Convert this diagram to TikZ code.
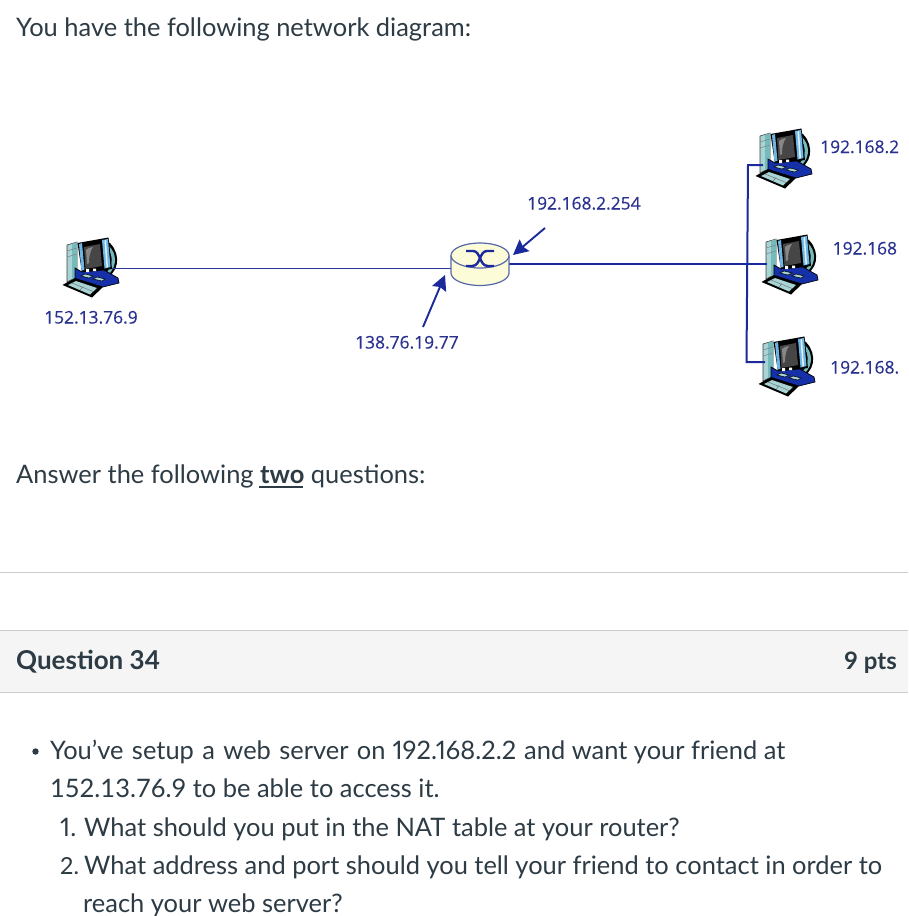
\documentclass[tikz,border=0pt]{standalone}
\usepackage{fontspec}
\setmainfont{Lato}
\newfontfamily\propnum[Numbers=Proportional]{Lato}
\newfontfamily\labelfont[FakeBold=0.4]{Open Sans}
\usetikzlibrary{arrows.meta}
\definecolor{ink}{HTML}{2D3B45}
\definecolor{netblue}{HTML}{1A2A9A}
\definecolor{labelblue}{HTML}{2A3290}
\definecolor{towerc}{HTML}{A9D4D6}
\definecolor{bezel}{HTML}{6DB6E4}
\definecolor{screenc}{HTML}{464646}
\definecolor{basec}{HTML}{1530A8}
\definecolor{routerfill}{HTML}{FDFCD8}
\definecolor{routerline}{HTML}{5566AA}
\definecolor{rulec}{HTML}{C7CDD1}
\definecolor{band}{HTML}{F5F5F5}
\tikzset{
  x=1pt,y=-1pt,
  body/.style={anchor=base west,inner sep=0pt,text=ink,font=\fontsize{25.45}{30}\selectfont},
  head/.style={anchor=base west,inner sep=0pt,text=ink,font=\fontsize{26}{30}\selectfont\bfseries},
  ptshead/.style={anchor=base east,inner sep=0pt,text=ink,font=\fontsize{24}{30}\selectfont\bfseries},
  iplabel/.style={anchor=base west,inner sep=0pt,text=labelblue,font=\labelfont\fontsize{17.4}{20}\selectfont},
  pcbox/.style={minimum width=57pt,minimum height=60pt,inner sep=0pt,anchor=north west},
  net/.style={draw=netblue,line width=2pt},
  netthin/.style={draw=netblue!85!gray,line width=1pt},
  pointer/.style={draw=netblue,line width=1.9pt,-{Stealth[length=15pt,width=15pt,inset=2pt]}},
  computer/.pic={
    % tower
    \fill[towerc,draw=black!75,line width=.6pt] (5,8) -- (15,5) -- (15,40) -- (5,45) -- cycle;
    \fill[towerc!70!teal] (10,7) -- (15,5) -- (15,40) -- (10,43) -- cycle;
    \draw[black!50,line width=.5pt] (5,14) -- (15,11) (5,20) -- (15,17);
    % curved back of the monitor
    \fill[black] (44,3) .. controls (58,12) and (59,32) .. (46,40) -- (40,38) -- cycle;
    \fill[towerc!70!teal] (47,9) .. controls (55,17) and (55,29) .. (47,37) -- (45,35) .. controls (51,28) and (51,18) .. (46,12) -- cycle;
    % monitor
    \fill[black] (15.5,6) -- (46.5,0.5) -- (50,32) -- (20,36) -- cycle;
    \fill[bezel] (17,7) -- (20,6) -- (22.5,33) -- (19.5,33.5) -- cycle;
    \fill[bezel] (40,3) -- (46,2) -- (48.5,30) -- (42.5,31.5) -- cycle;
    \fill[white!80!bezel] (42.5,3.5) -- (44,3) -- (46,30) -- (44.5,30.5) -- cycle;
    \fill[screenc] (22,10) -- (38,7) -- (40,29) -- (23.5,32) -- cycle;
    \fill[screenc!65!white] (24,13) .. controls (27,10.5) and (29,10.5) .. (31,10) .. controls (28,14) and (27,20) .. (27,26) -- (25,27) -- cycle;
    % base
    \fill[basec,draw=black,line width=.7pt] (13,31) -- (20,35) -- (42,33) -- (56,41) -- (57,46) -- (41,50) -- (13,42) -- cycle;
    \fill[white] (24,32) rectangle (27,35) (31,31.5) rectangle (34,34);
    % keyboard
    \fill[black] (0.5,48) -- (13,41) -- (41,50) -- (30,60.5) -- cycle;
    \fill[towerc] (6,48) -- (14,44) -- (35,51) -- (28,57.5) -- cycle;
    \draw[black!60,line width=.4pt] (10,46) -- (31,54.5) (21,49.5) -- (18,53);
    \fill[towerc,draw=black,line width=.5pt] (19,39) -- (27,41) -- (31,39) -- (23,37) -- cycle;
    \fill[towerc,draw=black,line width=.5pt] (31,42) -- (40,44) -- (43,42) -- (35,40) -- cycle;
  }
}
\begin{document}
\begin{tikzpicture}
\useasboundingbox (0,0) rectangle (908,916);
\fill[white] (0,0) rectangle (908,916);
% text top
\node[body] (intro) at (16,36) {You have the following network diagram:};
% machines
\node[pcbox] (pcleft) at (62,237) {};
\node[pcbox] (pctop) at (755,128) {};
\node[pcbox] (pcmid) at (761,234) {};
\node[pcbox] (pcbot) at (758,336) {};
\pic at (pcleft.north west) {computer};
\pic at (pctop.north west) {computer};
\pic at (pcmid.north west) {computer};
\pic at (pcbot.north west) {computer};
% bus coordinates
\coordinate (busT) at (748,165);
\coordinate (busB) at (746.5,362);
\coordinate (pctopin) at (763,165);
\coordinate (pcmidin) at (767,263.5);
\coordinate (pcbotin) at (765,362);
\coordinate (pcleftout) at (112,268);
% router
\node[minimum width=58pt,minimum height=43pt,inner sep=0pt] (router) at (480,264.5) {};
\coordinate (routerL) at (451,268);
\coordinate (routerR) at (509,263.5);
\draw[netthin] (pcleftout) -- (routerL);
\draw[net] (routerR) -- (pcmidin);
\draw[net] (pctopin) -- (busT) -- (busB) -- (pcbotin);
\fill[routerfill] (451,255.5) -- (451,273) arc[start angle=180,end angle=0,x radius=29,y radius=12.5] -- (509,255.5) -- cycle;
\draw[routerline,line width=1.2pt] (451,255.5) -- (451,273) arc[start angle=180,end angle=0,x radius=29,y radius=12.5] -- (509,255.5);
\draw[routerline,line width=1.2pt,fill=routerfill] (480,255.5) ellipse[x radius=29,y radius=12.5];
\draw[netblue,line width=2.4pt] (466,251) -- (473,251) .. controls (481,251) and (479,266) .. (488,266) -- (494,266);
\draw[netblue,line width=2.4pt] (494,251) -- (487,251) .. controls (479,251) and (481,266) .. (472,266) -- (466,266);
% pointers
\coordinate (ptrA) at (423,327);
\coordinate (ptrB) at (545,228);
\coordinate (tipA) at (445,275);
\coordinate (tipB) at (513,255);
\draw[pointer] (ptrA) -- (tipA);
\draw[pointer] (ptrB) -- (tipB);
% labels
\node[iplabel] (ipleft) at (44,323.5) {152.13.76.9};
\node[iplabel] (ipwan) at (355,348.5) {138.76.19.77};
\node[iplabel] (iplan) at (527,209.5) {192.168.2.254};
\begin{scope}
\clip (800,130) rectangle (898,390);
\node[iplabel] (iptop) at (820,153) {192.168.2};
\node[iplabel] (ipmid) at (832.5,254.5) {192.168.};
\node[iplabel] (ipbot) at (830,373.5) {192.168.};
\end{scope}
% answer
\node[body] (answer) at (16,483) {Answer the following \textbf{two} questions:};
\coordinate (ulA) at (259,487);
\coordinate (ulB) at (303,487);
\draw[ink,line width=1.5pt] (ulA) -- (ulB);
% rule and heading band
\coordinate (ruleL) at (0,572);
\coordinate (ruleR) at (908,572);
\draw[rulec,line width=1pt] (ruleL) -- (ruleR);
\fill[band] (0,630) rectangle (908,692);
\coordinate (bandTL) at (0,630.5);
\coordinate (bandTR) at (908,630.5);
\coordinate (bandBL) at (0,692.5);
\coordinate (bandBR) at (908,692.5);
\draw[rulec,line width=1pt] (bandTL) -- (bandTR);
\draw[rulec,line width=1pt] (bandBL) -- (bandBR);
\node[head] (qtitle) at (16,669) {Question 34};
\node[ptshead] (pts) at (897,669) {9 pts};
% list
\fill[ink] (35.5,751.5) circle[radius=3.2];
\node[body] (l1) at (50,759) {You’ve\kern1.9pt\ setup\kern1.9pt\ a\kern1.9pt\ web\kern1.9pt\ server\kern1.9pt\ on\kern.5pt\ {\propnum 192.168.2.2}\kern1.5pt\ and want your friend at};
\node[body] (l2) at (50,797) {152.13.76.9 to be able to access it.};
\node[body] (n1) at (60,836) {\propnum 1.};
\node[body] (l3) at (84,836) {What should you put in the NAT table at your router?};
\node[body] (n2) at (60,874) {\propnum\fontsize{23.5}{30}\selectfont 2.};
\node[body] (l4) at (84,874) {What address and port should you tell your friend to contact in order to};
\node[body] (l5) at (83,912) {reach your web server?};
\end{tikzpicture}
\end{document}
